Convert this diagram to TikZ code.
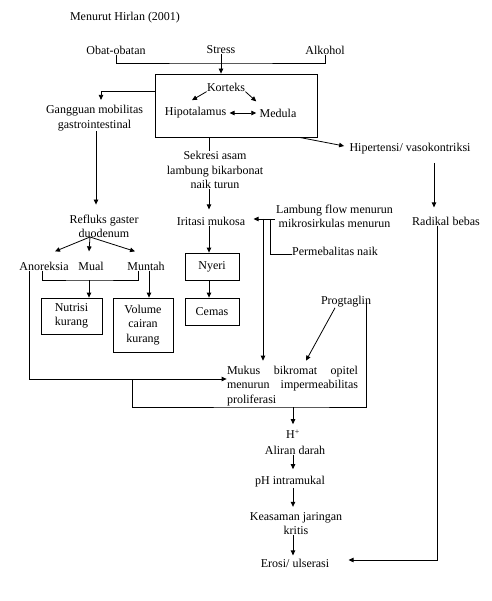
\documentclass[tikz,border=0pt]{standalone}
\usepackage{fontspec}
\setmainfont{Liberation Serif}
\usetikzlibrary{arrows.meta}

\begin{document}
\begin{tikzpicture}[x=1pt,y=-1pt,line width=0.8pt,
    every node/.style={inner sep=0pt,align=center,font=\fontsize{12}{14.5}\selectfont},
    kotak/.style={draw,line width=0.8pt},
    panah/.style={-{Triangle[length=5pt,width=4.5pt]}},
    panahdua/.style={{Triangle[length=5pt,width=4.5pt]}-{Triangle[length=5pt,width=4.5pt]}}]
\useasboundingbox (0,0) rectangle (491,601);

\node (judul) at (125,17.5) {Menurut Hirlan (2001)};
\node (obat) at (116,50) {Obat-obatan};
\node (stress) at (221,50) {Stress};
\node (alkohol) at (325,50) {Alkohol};

\node[kotak,minimum width=162pt,minimum height=63pt] (otak) at (236,105.5) {};
\node (korteks) at (226,87) {Korteks};
\node (hipo) at (195.5,113) {Hipotalamus};
\node (medula) at (278,113) {Medula};

\node (gangguan) at (94.5,118) {Gangguan mobilitas\\gastrointestinal};
\node (sekresi) at (215,170) {Sekresi asam\\lambung bikarbonat\\naik turun};
\node (hiper) at (410,149) {Hipertensi/ vasokontriksi};
\node (refluks) at (104,226.5) {Refluks gaster\\duodenum};
\node (iritasi) at (211,221) {Iritasi mukosa};
\node (lambung) at (334.5,216.5) {Lambung flow menurun\\mikrosirkulas menurun};
\node (radikal) at (446,221) {Radikal bebas};
\node (permeb) at (335,251) {Permebalitas naik};
\node (anoreksia) at (44,266) {Anoreksia};
\node (mual) at (91,266) {Mual};
\node (muntah) at (146,266) {Muntah};

\node[kotak,minimum width=54pt,minimum height=27pt] (nyeri) at (212,266.5) {Nyeri};
\node[kotak,minimum width=61pt,minimum height=36pt] (nutrisi) at (71.5,316) {Nutrisi\\kurang};
\node[kotak,minimum width=60pt,minimum height=54pt] (volume) at (143,325) {Volume\\cairan\\kurang};
\node[kotak,minimum width=54pt,minimum height=27pt] (cemas) at (212,311.5) {Cemas};

\node (progtaglin) at (346,302) {Progtaglin};
\node[text width=131pt,align=justify] (mukus) at (292.5,386)
    {Mukus bikromat opitel menurun impermeabilitas proliferasi};
\node (hplus) at (293,434) {H\textsuperscript{+}};
\node (aliran) at (295,450) {Aliran darah};
\node (ph) at (290,482) {pH intramukal};
\node (keasaman) at (296,523.5) {Keasaman jaringan\\kritis};
\node (erosi) at (295,563) {Erosi/ ulserasi};

\coordinate (gabung) at (221,63);
\coordinate (kiri) at (101,0);
\coordinate (kolG) at (96,0);
\coordinate (kolS) at (209,0);
\coordinate (kolR) at (434,0);
\coordinate (kolE) at (437,0);
\coordinate (pecah) at (90,237);
\coordinate (kurung) at (89,280);
\coordinate (kolB) at (42,0);
\coordinate (kolC) at (138,0);
\coordinate (kolV) at (149,0);
\coordinate (kolA) at (29,0);
\coordinate (aliranL) at (275,219);
\coordinate (cabang1) at (270,219);
\coordinate (cabang2) at (263,219);
\coordinate (bawah) at (293,407);
\coordinate (temu) at (132,379);
\coordinate (kolH) at (293,0);

\draw (obat.south) |- (gabung) -| (alkohol.south);
\draw[panah] (stress.south) -- (stress.south |- otak.north);
\draw[panah] (korteks.south west) -- ([xshift=-3.5pt,yshift=7pt]hipo.north);
\draw[panah] (korteks.south east) -- ([xshift=-3pt,yshift=7pt]medula.north west);
\draw[panahdua] ([xshift=3pt]hipo.east) -- ([xshift=-3pt]medula.west);

\draw[panah,shorten >=5pt] (otak.west |- korteks.south) -| (kiri |- gangguan.north);
\draw[panah,shorten >=10pt] (kolG |- gangguan.south) -- (kolG |- refluks.north);
\draw (kolS |- otak.south) -- (kolS |- sekresi.north);
\draw[panah,shorten >=7pt] (kolS |- sekresi.south) -- (kolS |- iritasi.north);
\draw[panah] (kolS |- iritasi.south) -- (kolS |- nyeri.north);
\draw[panah] (kolS |- nyeri.south) -- (kolS |- cemas.north);
\draw[panah] ([xshift=-18pt]otak.south east) -- ([xshift=-5pt,yshift=3pt]hiper.west);
\draw[panah,shorten <=8pt,shorten >=9pt] (kolR |- hiper.south) -- (kolR |- radikal.north);
\draw[panah] (kolE |- radikal.south) |- ([xshift=19pt,yshift=3pt]erosi.east);

\draw[panah] (pecah) -- ([xshift=11pt,yshift=10pt]anoreksia.north);
\draw[panah] (pecah) -- ([xshift=-2pt,yshift=10pt]mual.north);
\draw[panah] (pecah) -- ([xshift=-11pt,yshift=10pt]muntah.north);
\draw (kolB |- anoreksia.south) |- (kurung) -| (kolC |- muntah.south);
\draw[panah] (kurung) -- (kurung |- nutrisi.north);
\draw[panah] (kolV |- muntah.south) -- (kolV |- volume.north);
\draw[panah] (kolA |- anoreksia.south) |- ([yshift=7pt]mukus.west);

\draw[panah,shorten >=8pt] (aliranL) -- (aliranL -| iritasi.east);
\draw (cabang1) |- ([yshift=-3pt]permeb.west);
\draw[panah,shorten >=5pt] (cabang2) -- (cabang2 |- mukus.north);
\draw[panah] ([xshift=-11pt]progtaglin.south) -- ([xshift=13.5pt,yshift=5pt]mukus.north);
\draw ([xshift=-5pt]progtaglin.east) |- (bawah) -| (temu);

\draw[panah,shorten >=5pt] (bawah) -- (bawah |- hplus.north);
\draw[panah,shorten >=7pt] (kolH |- aliran.south) -- (kolH |- ph.north);
\draw[panah,shorten >=5pt] (kolH |- ph.south) -- (kolH |- keasaman.north);
\draw[panah,shorten >=3pt] (kolH |- keasaman.south) -- (kolH |- erosi.north);
\end{tikzpicture}
\end{document}
